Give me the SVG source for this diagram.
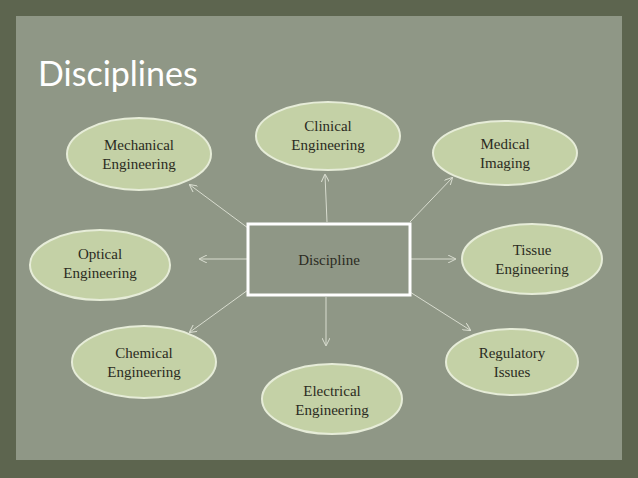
<svg xmlns="http://www.w3.org/2000/svg" width="638" height="478" viewBox="0 0 638 478">
<style>
.n ellipse{fill:#c4d1a6;stroke:#e6ecd8;stroke-width:2}
.n text{font-family:"Liberation Serif",serif;font-size:15px;fill:#2b2b22;text-anchor:middle}
.c line{stroke:#d8dccf;stroke-width:1;marker-end:url(#a)}
</style>
<defs><marker id="a" markerWidth="8" markerHeight="8" refX="7" refY="4" orient="auto" markerUnits="userSpaceOnUse"><path d="M0,0 L8,4 L0,8" fill="none" stroke="#d8dccf"/></marker></defs>
<rect width="638" height="478" fill="#5d654f"/>
<rect x="16" y="16" width="606" height="444" fill="#8f9786"/>
<text x="38" y="86" font-family="Lato,sans-serif" font-size="34" fill="#ffffff">Disciplines</text>
<g class="c">
<line x1="248" y1="228" x2="190" y2="185"/>
<line x1="327" y1="222" x2="325" y2="175"/>
<line x1="410" y1="222" x2="452" y2="178"/>
<line x1="248" y1="259" x2="200" y2="259"/>
<line x1="410" y1="259" x2="455" y2="259"/>
<line x1="248" y1="290" x2="190" y2="332"/>
<line x1="410" y1="292" x2="470" y2="330"/>
<line x1="326" y1="297" x2="326" y2="345"/>
</g>
<g id="center"><rect x="248" y="224" width="162" height="71" fill="#8f9786" stroke="#ffffff" stroke-width="3"/><text x="329" y="265" font-family="Liberation Serif,serif" font-size="15" fill="#2b2b22" text-anchor="middle">Discipline</text></g>
<g id="mech" class="n"><ellipse cx="139" cy="154" rx="72" ry="36"/><text x="139" y="150">Mechanical</text><text x="139" y="169">Engineering</text></g>
<g id="clin" class="n"><ellipse cx="328" cy="136" rx="72" ry="34"/><text x="328" y="131">Clinical</text><text x="328" y="150">Engineering</text></g>
<g id="med" class="n"><ellipse cx="505" cy="153" rx="72" ry="32"/><text x="505" y="149">Medical</text><text x="505" y="168">Imaging</text></g>
<g id="opt" class="n"><ellipse cx="100" cy="265" rx="70" ry="35"/><text x="100" y="259">Optical</text><text x="100" y="278">Engineering</text></g>
<g id="tis" class="n"><ellipse cx="532" cy="259" rx="70" ry="35"/><text x="532" y="255">Tissue</text><text x="532" y="274">Engineering</text></g>
<g id="chem" class="n"><ellipse cx="144" cy="362" rx="72" ry="36"/><text x="144" y="358">Chemical</text><text x="144" y="377">Engineering</text></g>
<g id="reg" class="n"><ellipse cx="512" cy="362" rx="66" ry="33"/><text x="512" y="358">Regulatory</text><text x="512" y="377">Issues</text></g>
<g id="elec" class="n"><ellipse cx="332" cy="399" rx="70" ry="35"/><text x="332" y="396">Electrical</text><text x="332" y="415">Engineering</text></g>
</svg>
